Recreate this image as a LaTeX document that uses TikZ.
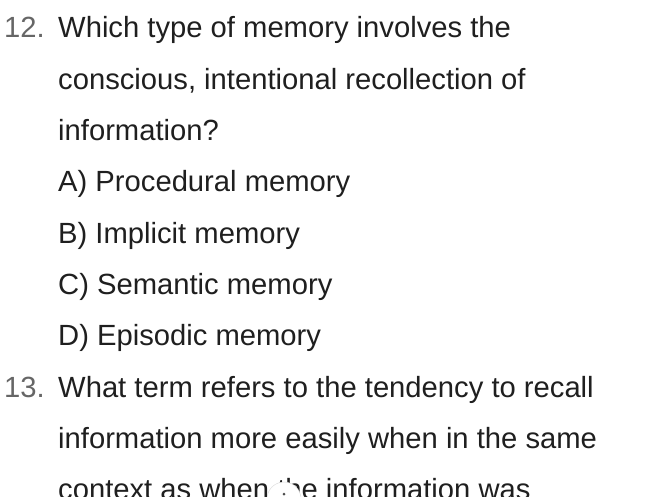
\documentclass[tikz,border=0pt]{standalone}
\usepackage{fontspec}
\setmainfont{Liberation Sans}
\begin{document}
\begin{tikzpicture}[x=1pt,y=-1pt,
  txt/.style={anchor=base west,inner sep=0pt,font=\fontsize{29.2}{33}\selectfont,text=black!88},
  num/.style={txt,text=black!60}]
\useasboundingbox (0,0) rectangle (652,497);
\clip (0,0) rectangle (652,497);
\fill[white] (0,0) rectangle (652,497);
\node[num] (n12) at (4,38) {12.};
\node[txt] (l1) at (58,38) {Which type of memory involves the};
\node[txt] (l2) at (58,89.3) {conscious, intentional recollection of};
\node[txt] (l3) at (58,140.6) {information?};
\node[txt] (a) at (58,191.9) {A) Procedural memory};
\node[txt] (b) at (58,243.2) {B) Implicit memory};
\node[txt] (c) at (58,294.5) {C) Semantic memory};
\node[txt] (d) at (58,345.8) {D) Episodic memory};
\node[num] (n13) at (4,397.1) {13.};
\node[txt] (m1) at (58,397.1) {What term refers to the tendency to recall};
\node[txt] (m2) at (58,448.4) {information more easily when in the same};
\node[txt] (m3) at (58,499.7) {context as when the information was};
\fill[white,draw=black!15] (284,499) circle (17);
\fill[black!70] (284,494) circle (1.5);
\end{tikzpicture}
\end{document}
